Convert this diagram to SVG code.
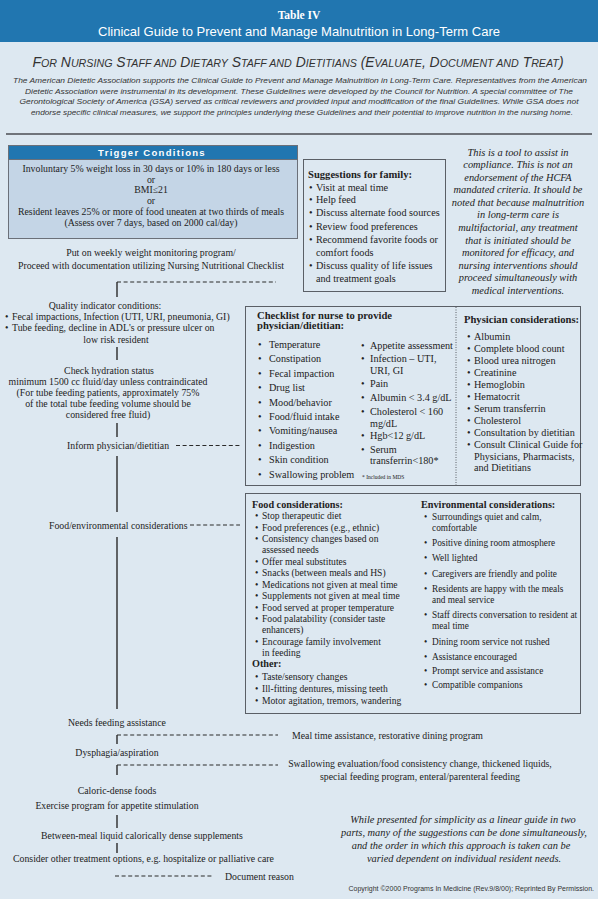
<svg xmlns="http://www.w3.org/2000/svg" width="598" height="899" viewBox="0 0 598 899">
<style>
.s{font-family:"Liberation Serif","Times New Roman",serif;fill:#222;font-size:9.8px}
.c{text-anchor:middle}
.b{font-weight:bold}
.i{font-style:italic}
.sa{font-family:"Liberation Sans",Arial,sans-serif}
.sm{font-size:9.6px}
.en{font-size:9.3px}
.ck{font-size:10.2px}
.hd{font-size:10.6px;font-weight:bold}
.it{font-size:10.4px;font-style:italic}
.sc{font-size:10.7px}
.box{fill:none;stroke:#5a5f66;stroke-width:1}
.flow{stroke:#2a2a2a;stroke-width:1.4;fill:none}
.dash{stroke:#2a2a2a;stroke-width:1.2;stroke-dasharray:4 2.6;fill:none}
.w{fill:#fff}
.g{fill:#333}
</style>
<rect width="598" height="899" fill="#dde8f1"/>

<g id="header">
<rect x="0" y="0" width="598" height="42" fill="#2176b0"/>
<text x="299" y="19" class="s c b w" style="font-size:11.5px">Table IV</text>
<text x="299" y="36" class="sa c w" style="font-size:13px" textLength="402" lengthAdjust="spacingAndGlyphs">Clinical Guide to Prevent and Manage Malnutrition in Long-Term Care</text>
<text x="298" y="67" class="sa c i g" style="font-size:13.9px">F<tspan class="sc">OR</tspan> N<tspan class="sc">URSING</tspan> S<tspan class="sc">TAFF AND</tspan> D<tspan class="sc">IETARY</tspan> S<tspan class="sc">TAFF AND</tspan> D<tspan class="sc">IETITIANS</tspan> (E<tspan class="sc">VALUATE</tspan>, D<tspan class="sc">OCUMENT AND</tspan> T<tspan class="sc">REAT</tspan>)</text>
<g class="sa i g" style="font-size:8px">
<text x="300" y="83" class="c" textLength="574" lengthAdjust="spacingAndGlyphs">The American Dietetic Association supports the Clinical Guide to Prevent and Manage Malnutrition in Long-Term Care. Representatives from the American</text>
<text x="299" y="93.5" class="c" textLength="548" lengthAdjust="spacingAndGlyphs">Dietetic Association were instrumental in its development. These Guidelines were developed by the Council for Nutrition. A special committee of The</text>
<text x="299" y="104" class="c" textLength="559" lengthAdjust="spacingAndGlyphs">Gerontological Society of America (GSA) served as critical reviewers and provided input and modification of the final Guidelines. While GSA does not</text>
<text x="302" y="114.5" class="c" textLength="542" lengthAdjust="spacingAndGlyphs">endorse specific clinical measures, we support the principles underlying these Guidelines and their potential to improve nutrition in the nursing home.</text>
</g>
<line x1="6" y1="134" x2="592" y2="134" stroke="#4a4d52" stroke-width="1.6"/>
</g>

<g id="trigger">
<rect x="8.5" y="145.5" width="289" height="93" fill="#c4d5e6" stroke="#6b7079"/>
<rect x="8.5" y="145.5" width="289" height="14" fill="#2176b0" stroke="#6b7079"/>
<text x="152" y="156" class="sa c b w" style="font-size:9.5px;letter-spacing:1.3px">Trigger Conditions</text>
<g class="s c">
<text x="151" y="172">Involuntary 5% weight loss in 30 days or 10% in 180 days or less</text>
<text x="151" y="182.5">or</text>
<text x="151" y="193">BMI≤21</text>
<text x="151" y="203.5">or</text>
<text x="151" y="215">Resident leaves 25% or more of food uneaten at two thirds of meals</text>
<text x="151" y="226">(Assess over 7 days, based on 2000 cal/day)</text>
</g>
</g>

<g id="weekly">
<text x="151" y="255.5" class="s c">Put on weekly weight monitoring program/</text>
<text x="151" y="268.5" class="s c">Proceed with documentation utilizing Nursing Nutritional Checklist</text>
</g>

<g id="family">
<rect x="303.5" y="159.5" width="142" height="132" class="box"/>
<text x="308" y="178" class="s hd">Suggestions for family:</text>
<text class="s ck">
<tspan x="309" y="190.5">•</tspan><tspan x="316">Visit at meal time</tspan>
<tspan x="309" y="203">•</tspan><tspan x="316">Help feed</tspan>
<tspan x="309" y="216">•</tspan><tspan x="316">Discuss alternate food sources</tspan>
<tspan x="309" y="229.5">•</tspan><tspan x="316">Review food preferences</tspan>
<tspan x="309" y="243">•</tspan><tspan x="316">Recommend favorite foods or</tspan>
<tspan x="316" y="255.5">comfort foods</tspan>
<tspan x="309" y="269">•</tspan><tspan x="316">Discuss quality of life issues</tspan>
<tspan x="316" y="281.5">and treatment goals</tspan>
</text>
</g>

<g id="note-top" class="s c it">
<text x="518" y="155.5">This is a tool to assist in</text>
<text x="518" y="168">compliance. This is not an</text>
<text x="518" y="180.6">endorsement of the HCFA</text>
<text x="518" y="193.2">mandated criteria. It should be</text>
<text x="518" y="205.8">noted that because malnutrition</text>
<text x="518" y="218.4">in long-term care is</text>
<text x="518" y="231">multifactorial, any treatment</text>
<text x="518" y="243.6">that is initiated should be</text>
<text x="518" y="256.2">monitored for efficacy, and</text>
<text x="518" y="268.8">nursing interventions should</text>
<text x="518" y="281.4">proceed simultaneously with</text>
<text x="518" y="294">medical interventions.</text>
</g>

<g id="quality">
<text x="105" y="308.5" class="s c">Quality indicator conditions:</text>
<text class="s"><tspan x="5" y="320">•</tspan><tspan x="12">Fecal impactions, Infection (UTI, URI, pneumonia, GI)</tspan></text>
<text class="s"><tspan x="5" y="331">•</tspan><tspan x="12">Tube feeding, decline in ADL's or pressure ulcer on</tspan></text>
<text x="116" y="342.5" class="s c">low risk resident</text>
</g>

<g id="hydration" class="s c">
<text x="109" y="373.5">Check hydration status</text>
<text x="108" y="384.5">minimum 1500 cc fluid/day unless contraindicated</text>
<text x="108" y="395.5">(For tube feeding patients, approximately 75%</text>
<text x="108" y="406.5">of the total tube feeding volume should be</text>
<text x="108" y="417.5">considered free fluid)</text>
</g>

<g id="inform"><text x="67" y="449" class="s">Inform physician/dietitian</text></g>

<g id="checklist">
<rect x="245.5" y="306.5" width="335" height="179" class="box"/>
<line x1="456" y1="307" x2="456" y2="485" stroke="#5a5f66" stroke-width="1" stroke-dasharray="1 1.5"/>
<text x="257" y="319" class="s hd">Checklist for nurse to provide</text>
<text x="257" y="329" class="s hd">physician/dietitian:</text>
<text class="s ck">
<tspan x="258" y="348">•</tspan><tspan x="269">Temperature</tspan>
<tspan x="258" y="362.4">•</tspan><tspan x="269">Constipation</tspan>
<tspan x="258" y="376.8">•</tspan><tspan x="269">Fecal impaction</tspan>
<tspan x="258" y="391.2">•</tspan><tspan x="269">Drug list</tspan>
<tspan x="258" y="405.6">•</tspan><tspan x="269">Mood/behavior</tspan>
<tspan x="258" y="420">•</tspan><tspan x="269">Food/fluid intake</tspan>
<tspan x="258" y="434.4">•</tspan><tspan x="269">Vomiting/nausea</tspan>
<tspan x="258" y="448.8">•</tspan><tspan x="269">Indigestion</tspan>
<tspan x="258" y="463.2">•</tspan><tspan x="269">Skin condition</tspan>
<tspan x="258" y="477.6">•</tspan><tspan x="269">Swallowing problem</tspan>
</text>
<text class="s ck">
<tspan x="361" y="348.5">•</tspan><tspan x="370">Appetite assessment</tspan>
<tspan x="361" y="361.5">•</tspan><tspan x="370">Infection – UTI,</tspan>
<tspan x="370" y="373.5">URI, GI</tspan>
<tspan x="361" y="386.5">•</tspan><tspan x="370">Pain</tspan>
<tspan x="361" y="400.5">•</tspan><tspan x="370">Albumin &lt; 3.4 g/dL</tspan>
<tspan x="361" y="414.5">•</tspan><tspan x="370">Cholesterol &lt; 160</tspan>
<tspan x="370" y="426.5">mg/dL</tspan>
<tspan x="361" y="439">•</tspan><tspan x="370">Hgb&lt;12 g/dL</tspan>
<tspan x="361" y="452.5">•</tspan><tspan x="370">Serum</tspan>
<tspan x="370" y="464">transferrin&lt;180*</tspan>
</text>
<text x="362" y="478.5" class="s" style="font-size:5.5px">* Included in MDS</text>
</g>

<g id="physician">
<text x="464" y="323" class="s hd">Physician considerations:</text>
<text class="s ck">
<tspan x="467" y="340">•</tspan><tspan x="474">Albumin</tspan>
<tspan x="467" y="352">•</tspan><tspan x="474">Complete blood count</tspan>
<tspan x="467" y="364">•</tspan><tspan x="474">Blood urea nitrogen</tspan>
<tspan x="467" y="376">•</tspan><tspan x="474">Creatinine</tspan>
<tspan x="467" y="388">•</tspan><tspan x="474">Hemoglobin</tspan>
<tspan x="467" y="400">•</tspan><tspan x="474">Hematocrit</tspan>
<tspan x="467" y="412">•</tspan><tspan x="474">Serum transferrin</tspan>
<tspan x="467" y="424">•</tspan><tspan x="474">Cholesterol</tspan>
<tspan x="467" y="436">•</tspan><tspan x="474">Consultation by dietitian</tspan>
<tspan x="467" y="448">•</tspan><tspan x="474">Consult Clinical Guide for</tspan>
<tspan x="474" y="459.5">Physicians, Pharmacists,</tspan>
<tspan x="474" y="471">and Dietitians</tspan>
</text>
</g>

<g id="foodenv"><text x="49" y="528.5" class="s">Food/environmental considerations</text></g>

<g id="food">
<rect x="245.5" y="493.5" width="335" height="220" class="box"/>
<text x="252" y="508" class="s hd" style="font-size:10.2px">Food considerations:</text>
<text class="s sm">
<tspan x="255" y="519">•</tspan><tspan x="262">Stop therapeutic diet</tspan>
<tspan x="255" y="530.5">•</tspan><tspan x="262">Food preferences (e.g., ethnic)</tspan>
<tspan x="255" y="542">•</tspan><tspan x="262">Consistency changes based on</tspan>
<tspan x="262" y="553">assessed needs</tspan>
<tspan x="255" y="564.5">•</tspan><tspan x="262">Offer meal substitutes</tspan>
<tspan x="255" y="576">•</tspan><tspan x="262">Snacks (between meals and HS)</tspan>
<tspan x="255" y="587.5">•</tspan><tspan x="262">Medications not given at meal time</tspan>
<tspan x="255" y="599">•</tspan><tspan x="262">Supplements not given at meal time</tspan>
<tspan x="255" y="610.5">•</tspan><tspan x="262">Food served at proper temperature</tspan>
<tspan x="255" y="622">•</tspan><tspan x="262">Food palatability (consider taste</tspan>
<tspan x="262" y="633">enhancers)</tspan>
<tspan x="255" y="644.5">•</tspan><tspan x="262">Encourage family involvement</tspan>
<tspan x="262" y="655.5">in feeding</tspan>
</text>
<text x="252" y="667" class="s hd" style="font-size:10.2px">Other:</text>
<text class="s sm">
<tspan x="255" y="680">•</tspan><tspan x="262">Taste/sensory changes</tspan>
<tspan x="255" y="692">•</tspan><tspan x="262">Ill-fitting dentures, missing teeth</tspan>
<tspan x="255" y="704">•</tspan><tspan x="262">Motor agitation, tremors, wandering</tspan>
</text>
</g>

<g id="environment">
<text x="421" y="508" class="s hd" style="font-size:10.2px">Environmental considerations:</text>
<text class="s en">
<tspan x="424" y="520">•</tspan><tspan x="432">Surroundings quiet and calm,</tspan>
<tspan x="432" y="531">comfortable</tspan>
<tspan x="424" y="546">•</tspan><tspan x="432">Positive dining room atmosphere</tspan>
<tspan x="424" y="561">•</tspan><tspan x="432">Well lighted</tspan>
<tspan x="424" y="576.5">•</tspan><tspan x="432">Caregivers are friendly and polite</tspan>
<tspan x="424" y="591.5">•</tspan><tspan x="432">Residents are happy with the meals</tspan>
<tspan x="432" y="602.5">and meal service</tspan>
<tspan x="424" y="618">•</tspan><tspan x="432">Staff directs conversation to resident at</tspan>
<tspan x="432" y="629">meal time</tspan>
<tspan x="424" y="644.5">•</tspan><tspan x="432">Dining room service not rushed</tspan>
<tspan x="424" y="659.5">•</tspan><tspan x="432">Assistance encouraged</tspan>
<tspan x="424" y="674">•</tspan><tspan x="432">Prompt service and assistance</tspan>
<tspan x="424" y="688">•</tspan><tspan x="432">Compatible companions</tspan>
</text>
</g>

<g id="needs"><text x="117" y="725.5" class="s c">Needs feeding assistance</text></g>
<g id="mealtime"><text x="292" y="739" class="s">Meal time assistance, restorative dining program</text></g>
<g id="dysphagia"><text x="117" y="756" class="s c">Dysphagia/aspiration</text></g>
<g id="swallowing">
<text x="420" y="767" class="s c">Swallowing evaluation/food consistency change, thickened liquids,</text>
<text x="420" y="780" class="s c">special feeding program, enteral/parenteral feeding</text>
</g>
<g id="caloric">
<text x="117" y="794" class="s c">Caloric-dense foods</text>
<text x="117" y="809" class="s c">Exercise program for appetite stimulation</text>
</g>
<g id="between"><text x="41" y="838.5" class="s">Between-meal liquid calorically dense supplements</text></g>
<g id="consider"><text x="13" y="862" class="s">Consider other treatment options, e.g. hospitalize or palliative care</text></g>
<g id="document"><text x="225" y="879.5" class="s">Document reason</text></g>

<g id="note-bottom" class="s c it">
<text x="463" y="823">While presented for simplicity as a linear guide in two</text>
<text x="464" y="836">parts, many of the suggestions can be done simultaneously,</text>
<text x="461" y="849">and the order in which this approach is taken can be</text>
<text x="464" y="862">varied dependent on individual resident needs.</text>
</g>

<g id="copyright"><text x="594" y="891" class="sa g" style="font-size:7px;text-anchor:end">Copyright ©2000 Programs In Medicine (Rev.9/8/00); Reprinted By Permission.</text></g>

<g id="connectors">
<path class="dash" d="M117 282H276"/>
<path class="flow" d="M117 282V297"/>
<path class="flow" d="M117 347V360"/>
<path class="flow" d="M117 423V437"/>
<path class="dash" d="M176 445.5H240"/>
<path class="flow" d="M117 456V512"/>
<path class="dash" d="M190 525H240"/>
<path class="flow" d="M117 537V709"/>
<path class="dash" d="M117 735H278"/>
<path class="flow" d="M117 735V744"/>
<path class="dash" d="M117 765H278"/>
<path class="flow" d="M117 765V775"/>
<path class="flow" d="M117 815V828"/>
<path class="flow" d="M117 843V853"/>
<path class="dash" d="M115 876H212"/>
</g>
</svg>
